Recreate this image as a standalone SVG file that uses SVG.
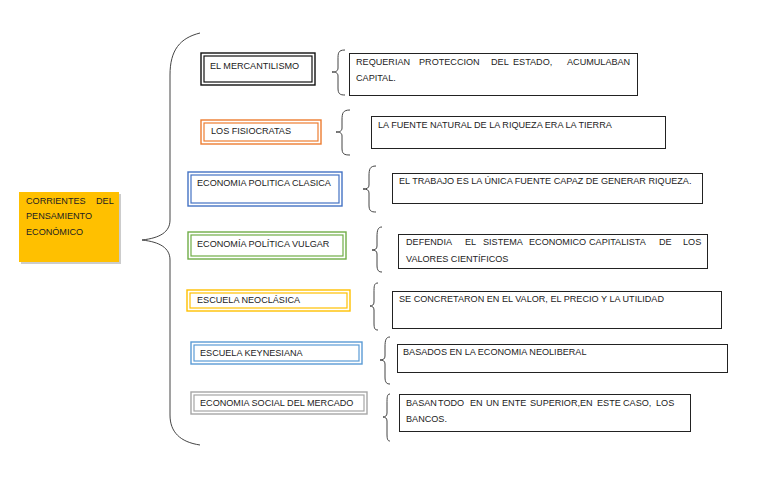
<svg xmlns="http://www.w3.org/2000/svg" width="768" height="503" viewBox="0 0 768 503">
<style>
text{font-family:"Liberation Sans",Arial,sans-serif;font-size:9.1px;fill:#222}
.brace{fill:none;stroke:#444;stroke-width:1}
.tb{fill:#fff;stroke:#222;stroke-width:1}
.o{fill:#fff;stroke-width:1.4}
.i{fill:none;stroke-width:1.2}
</style>
<rect width="768" height="503" fill="#fff"/>
<g id="root">
<rect x="21" y="194" width="100" height="70" fill="#ccc"/>
<rect x="19" y="192" width="100" height="70" fill="#FFC000"/>
<text y="204"><tspan x="26">CORRIENTES</tspan><tspan x="96">DEL</tspan></text>
<text x="26" y="219">PENSAMIENTO</text>
<text x="26" y="235">ECONÓMICO</text>
</g>
<g id="connectors">
<path class="brace" d="M200,33 C180,38 170,50 170,75 L170,220 C170,232 160,238 142,240 C160,242 170,248 170,260 L170,415 C170,432 180,442 200,445"/>
<path class="brace" d="M345,50 C338,50 338,53 338,60 L338,68 C338,71 336,72 332,72 C336,72 338,73 338,76 L338,88 C338,94 340,95 345,95"/>
<path class="brace" d="M350,110 C343,110 342,113 342,120 L342,128 C342,131 340,132 336,132 C340,132 342,133 342,136 L342,148 C342,154 344,155 350,155"/>
<path class="brace" d="M376,166 C370,166 369,169 369,176 L369,185 C369,188 367,189 363,189 C367,189 369,190 369,193 L369,205 C369,211 371,212 376,212"/>
<path class="brace" d="M382,227 C378,227 377,230 377,237 L377,246 C377,249 375,250 372,250 C375,250 377,251 377,254 L377,265 C377,271 379,272 382,272"/>
<path class="brace" d="M378,283 C374,283 374,286 374,293 L374,302 C374,305 372,306 370,306 C372,306 374,307 374,310 L374,323 C374,329 375,330 378,330"/>
<path class="brace" d="M390,337 C386,337 385,340 385,347 L385,356 C385,359 383,360 380,360 C383,360 385,361 385,364 L385,377 C385,383 387,384 390,384"/>
<path class="brace" d="M390,394 C387,394 387,397 387,404 L387,413 C387,416 385,417 383,417 C385,417 387,418 387,421 L387,434 C387,440 388,441 390,441"/>
</g>
<g id="n1"><rect class="o" x="201" y="53" width="114" height="32" stroke="#111" stroke-width="2.5"/><rect class="i" x="204" y="56" width="108" height="26" stroke="#111"/><text x="210" y="69">EL MERCANTILISMO</text></g>
<g id="n2"><rect class="o" x="201" y="120" width="120" height="24" stroke="#ED7D31"/><rect class="i" x="204" y="123" width="114" height="18" stroke="#ED7D31"/><text x="211" y="134">LOS FISIOCRATAS</text></g>
<g id="n3"><rect class="o" x="188" y="172" width="154" height="34" stroke="#4472C4"/><rect class="i" x="191" y="175" width="148" height="28" stroke="#4472C4"/><text x="197" y="186">ECONOMIA POLITICA CLASICA</text></g>
<g id="n4"><rect class="o" x="188" y="232" width="158" height="27" stroke="#70AD47"/><rect class="i" x="191" y="235" width="152" height="21" stroke="#70AD47"/><text x="197" y="247">ECONOMÍA POLÍTICA VULGAR</text></g>
<g id="n5"><rect class="o" x="187" y="290" width="163" height="21" stroke="#FFC000"/><rect class="i" x="190" y="293" width="157" height="15" stroke="#FFC000"/><text x="197" y="303">ESCUELA NEOCLÁSICA</text></g>
<g id="n6"><rect class="o" x="191" y="342" width="171" height="22" stroke="#5B9BD5"/><rect class="i" x="194" y="345" width="165" height="16" stroke="#5B9BD5"/><text x="200" y="356">ESCUELA KEYNESIANA</text></g>
<g id="n7"><rect class="o" x="191" y="392" width="176" height="22" stroke="#A5A5A5"/><rect class="i" x="194" y="395" width="170" height="16" stroke="#A5A5A5"/><text x="200" y="406">ECONOMIA SOCIAL DEL MERCADO</text></g>
<g id="d1"><rect class="tb" x="349.5" y="53.5" width="288" height="42"/><text y="65"><tspan x="356">REQUERIAN</tspan><tspan x="419">PROTECCION</tspan><tspan x="491">DEL</tspan><tspan x="513">ESTADO,</tspan><tspan x="567">ACUMULABAN</tspan></text><text x="356" y="81">CAPITAL.</text></g>
<g id="d2"><rect class="tb" x="371.5" y="116.5" width="294" height="32"/><text x="378" y="128">LA FUENTE NATURAL DE LA RIQUEZA ERA LA TIERRA</text></g>
<g id="d3"><rect class="tb" x="392.5" y="173.5" width="310" height="30"/><text x="399" y="184">EL TRABAJO ES LA ÚNICA FUENTE CAPAZ DE GENERAR RIQUEZA.</text></g>
<g id="d4"><rect class="tb" x="398.5" y="234.5" width="309" height="34"/><text y="245"><tspan x="406">DEFENDIA</tspan><tspan x="465">EL</tspan><tspan x="483">SISTEMA</tspan><tspan x="529">ECONOMICO</tspan><tspan x="589">CAPITALISTA</tspan><tspan x="659">DE</tspan><tspan x="683">LOS</tspan></text><text x="406" y="262">VALORES CIENTÍFICOS</text></g>
<g id="d5"><rect class="tb" x="392.5" y="291.5" width="329" height="37"/><text x="399" y="302">SE CONCRETARON EN EL VALOR, EL PRECIO Y LA UTILIDAD</text></g>
<g id="d6"><rect class="tb" x="397.5" y="344.5" width="330" height="28"/><text x="403" y="355">BASADOS EN LA ECONOMIA NEOLIBERAL</text></g>
<g id="d7"><rect class="tb" x="399.5" y="394.5" width="291" height="37"/><text y="406"><tspan x="406">BASAN</tspan><tspan x="438">TODO</tspan><tspan x="470">EN</tspan><tspan x="486">UN</tspan><tspan x="502">ENTE</tspan><tspan x="530">SUPERIOR,</tspan><tspan x="580">EN</tspan><tspan x="597">ESTE</tspan><tspan x="623">CASO,</tspan><tspan x="656">LOS</tspan></text><text x="406" y="422">BANCOS.</text></g>
</svg>
